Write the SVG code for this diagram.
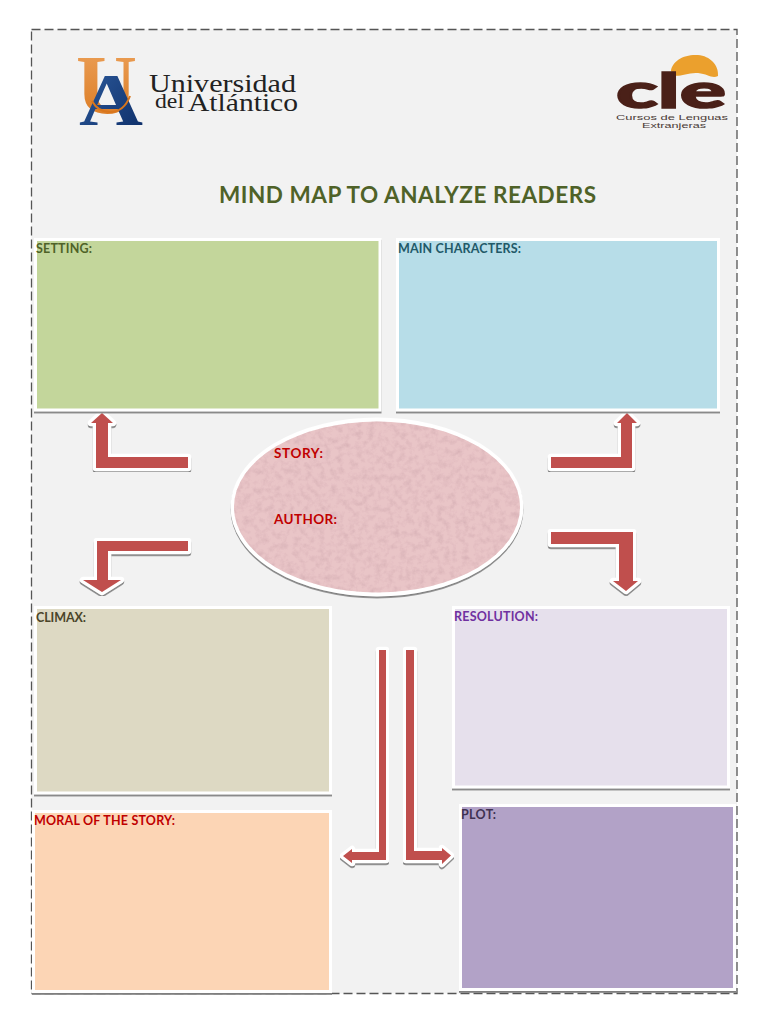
<svg xmlns="http://www.w3.org/2000/svg" width="768" height="1024" viewBox="0 0 768 1024">
<style>
.lbl{font-family:Lato,"Open Sans",sans-serif;font-weight:700;font-size:12.500px}
.big{font-size:13.500px}
.box{stroke:#fff;stroke-width:3;filter:url(#sh)}
.arr{fill:#c0504d;stroke:#fff;stroke-width:6.500;stroke-linejoin:round;paint-order:stroke;filter:url(#sh)}
</style>
<defs>
<filter id="sh" x="-5%" y="-5%" width="110%" height="112%"><feDropShadow dx="0" dy="1.800" stdDeviation="0.500" flood-color="#7f7f7f"/></filter>
<filter id="tex" x="0" y="0" width="100%" height="100%">
<feTurbulence type="fractalNoise" baseFrequency="0.16" numOctaves="4" seed="5" result="n"/>
<feColorMatrix in="n" type="matrix" values="0 0 0 0 0.66  0 0 0 0 0.42  0 0 0 0 0.45  1.500 0 0 0 -0.62" result="c"/>
<feComposite in="c" in2="SourceAlpha" operator="in" result="d"/>
<feMerge><feMergeNode in="SourceGraphic"/><feMergeNode in="d"/></feMerge>
</filter>
<linearGradient id="og" x1="0" y1="0" x2="0" y2="1"><stop offset="0" stop-color="#eda35c"/><stop offset="1" stop-color="#d9761c"/></linearGradient>
<linearGradient id="bg" x1="0" y1="0" x2="1" y2="1"><stop offset="0" stop-color="#2f5ea0"/><stop offset="1" stop-color="#0c2c66"/></linearGradient>
</defs>
<rect width="768" height="1024" fill="#fff"/>
<rect id="page" x="31.500" y="29.500" width="705.500" height="964" fill="#f2f2f2" stroke="#555" stroke-width="1.300" stroke-dasharray="9 4"/>

<g id="logo-ua">
<text x="76" y="114" font-family="Liberation Serif,serif" font-weight="700" font-size="84" fill="url(#og)" textLength="61" lengthAdjust="spacingAndGlyphs">U</text>
<text x="79" y="125" font-family="Liberation Serif,serif" font-weight="700" font-size="74" fill="url(#bg)" textLength="64" lengthAdjust="spacingAndGlyphs">A</text>
<path d="M92 101Q98 112 110 112Q124 112 130 96" fill="none" stroke="#d9761c" stroke-width="2"/>
<text x="149" y="92" font-family="Liberation Serif,serif" font-size="26" fill="#222" textLength="147" lengthAdjust="spacingAndGlyphs">Universidad</text>
<text x="155" y="108" font-family="Liberation Serif,serif" font-size="20" fill="#222" textLength="29" lengthAdjust="spacingAndGlyphs">del</text>
<text x="188" y="111" font-family="Liberation Serif,serif" font-size="26" fill="#222" textLength="110" lengthAdjust="spacingAndGlyphs">Atlántico</text>
</g>

<g id="logo-cle">
<path d="M671 71C672 61 684 54 698 55C710 56 719 65 718 76C712 79 708 74 698 73C688 72 678 78 673 75Z" fill="#eba02d"/>
<text x="616" y="108" font-family="Lato,sans-serif" font-weight="900" font-size="48" fill="#4a2018" stroke="#4a2018" stroke-width="1.500" textLength="110" lengthAdjust="spacingAndGlyphs">cle</text>
<text x="616" y="119.500" font-family="Liberation Sans,sans-serif" font-size="7.500" fill="#4a3a36" textLength="112" lengthAdjust="spacingAndGlyphs">Cursos de Lenguas</text>
<text x="642" y="128" font-family="Liberation Sans,sans-serif" font-size="7.500" fill="#4a3a36" textLength="64" lengthAdjust="spacingAndGlyphs">Extranjeras</text>
</g>

<text id="title" x="219" y="203" font-family="Lato,sans-serif" font-weight="700" font-size="22.500" fill="#4f6228" textLength="377">MIND MAP TO ANALYZE READERS</text>

<g id="connectors">
<polygon class="arr" points="102,413 113,423 108,423 108,457 188,457 188,468 96,468 96,423 91,423"/>
<polygon class="arr" points="97,541 188,541 188,551 108,551 108,580 121,580 102,592 83,580 97,580"/>
<polygon class="arr" points="627,413 637,423 632,423 632,468 551,468 551,457 621,457 621,423 617,423"/>
<polygon class="arr" points="551,532 633,532 633,581 638,581 626,591 613,581 619,581 619,544 551,544"/>
<polygon class="arr" points="379,650 386,650 386,860 352,860 352,863 343,856 352,849 352,852 379,852"/>
<polygon class="arr" points="406,650 414,650 414,851 442,851 442,848 451,855.500 442,864 442,860 406,860"/>
</g>

<g id="setting"><rect class="box" x="35.500" y="239.500" width="344.500" height="170.500" fill="#c3d69b"/><text class="lbl" x="36" y="252.500" fill="#4f6228" textLength="56">SETTING:</text></g>
<g id="main-characters"><rect class="box" x="397.500" y="239.500" width="321" height="170.500" fill="#b7dde8"/><text class="lbl" x="398" y="252.500" fill="#215968" textLength="123">MAIN CHARACTERS:</text></g>
<g id="climax"><rect class="box" x="35.500" y="607.500" width="295" height="185.500" fill="#ddd9c3"/><text class="lbl" x="36" y="621.500" fill="#4a452a" textLength="50">CLIMAX:</text></g>
<g id="resolution"><rect class="box" x="453.500" y="607.500" width="275" height="179.500" fill="#e6e0ec"/><text class="lbl" x="454" y="620.500" fill="#7030a0" textLength="84">RESOLUTION:</text></g>
<g id="moral"><rect class="box" x="33.500" y="811.500" width="297" height="180" fill="#fcd5b5"/><text class="lbl" x="34" y="824.500" fill="#c00000" textLength="141">MORAL OF THE STORY:</text></g>
<g id="plot"><rect class="box" x="460.500" y="805.500" width="274" height="184" fill="#b2a2c7"/><text class="lbl" x="461" y="818.500" fill="#403152" textLength="35">PLOT:</text></g>

<g id="story">
<ellipse cx="377" cy="507" rx="145" ry="88" fill="#fff" stroke="#fff" stroke-width="3" filter="url(#sh)"/>
<ellipse cx="377" cy="507" rx="143" ry="85.500" fill="#e9c5c7" filter="url(#tex)"/>
<text class="lbl big" x="274" y="457.500" fill="#c00000" textLength="49">STORY:</text>
<text class="lbl big" x="274" y="523.500" fill="#c00000" textLength="63">AUTHOR:</text>
</g>
</svg>
